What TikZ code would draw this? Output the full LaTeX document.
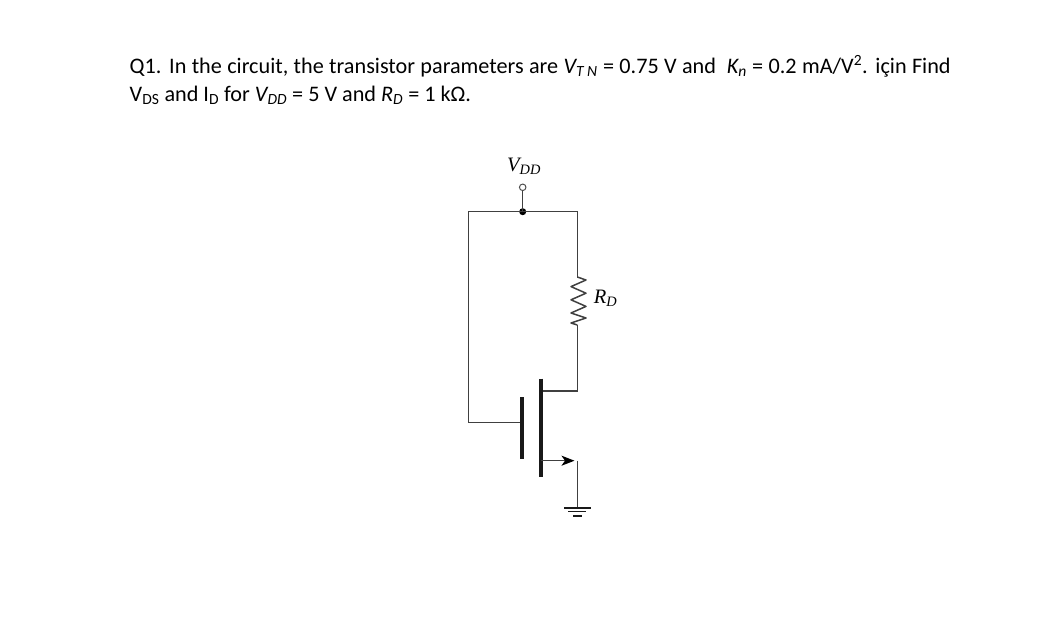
\documentclass[tikz,border=0pt]{standalone}
\usepackage{fontspec}
\setmainfont{Carlito}
\newfontfamily\circuitfont{Liberation Serif}
\usepackage{tikz}
\usetikzlibrary{arrows.meta,positioning}
\tikzset{
  wire/.style={draw=black!75,line width=1.3pt},
  plate/.style={draw=black!90,line width=3.6pt},
  gnd/.style={draw=black!90,line width=1.7pt},
  question/.style={anchor=base west,inner sep=0pt,font=\fontsize{22.2}{27}\selectfont},
  label/.style={inner sep=0pt,font=\fontsize{20.5}{22}\selectfont\circuitfont\itshape}
}
\begin{document}
\begin{tikzpicture}[x=1pt,y=-1pt]
  \useasboundingbox (0,0) rectangle (1057,629);
  \node[question] (lineone) at (129.5,73.5)
    {\hbox to 821pt{Q1. In the circuit, the transistor parameters are \textit{V\textsubscript{T N}} = 0.75 V and\ \ \textit{K\textsubscript{n}} = 0.2 mA/V\textsuperscript{2}. için Find}};
  \node[question] (linetwo) at (129.5,101)
    {V\textsubscript{DS} and I\textsubscript{D} for \textit{V\textsubscript{DD}} = 5 V and \textit{R\textsubscript{D}} = 1 kΩ.};

  \node[label] (vdd) at (524,166.5) {V\textsubscript{DD}};
  \node[label] (rd) at (605.5,298) {R\textsubscript{D}};

  \coordinate (top) at (522.7,211.7);
  \coordinate (topl) at (468.7,211.7);
  \coordinate (topr) at (577.3,211.7);
  \coordinate (resa) at (577.3,277);
  \coordinate (resb) at (577.3,325);
  \coordinate (drain) at (577.3,391);
  \coordinate (chd) at (540.7,391);
  \coordinate (gatel) at (468.7,422.7);
  \coordinate (gate) at (521.7,422.7);
  \coordinate (chs) at (540.7,460.7);
  \coordinate (arrowend) at (574.5,460.7);
  \coordinate (src) at (577.3,460.7);
  \coordinate (gnd) at (577.3,507.5);

  \node[circle,draw=black!70,line width=1pt,inner sep=0pt,minimum size=6.5pt] (vddpin) at (522.7,187.3) {};
  \fill[black] (top) circle (3.5pt);
  \draw[wire] (vddpin) -- (top);
  \draw[wire] (gate) -- (gatel) -- (topl) -- (topr) -- (resa);
  \draw[wire,line width=1.5pt,line join=round] (resa) -- (586,280) -- (571,286.6) -- (586,293.2) -- (571,299.8) -- (586,306.4) -- (571,313) -- (586,318) -- (571,323) -- (resb);
  \draw[wire] (resb) -- (drain) -- (chd);
  \draw[plate] (521.7,397) -- (521.7,458.7);
  \draw[plate] (540.7,378.7) -- (540.7,477.3);
  \draw[wire,-{Stealth[length=13pt,width=10pt,inset=3.5pt,color=black]}] (chs) -- (arrowend);
  \draw[wire] (src) -- (gnd);
  \draw[gnd] (564,507.7) -- (591,507.7);
  \draw[gnd] (568,511.5) -- (586,511.5);
  \draw[gnd] (573,515.7) -- (582,515.7);
\end{tikzpicture}
\end{document}
